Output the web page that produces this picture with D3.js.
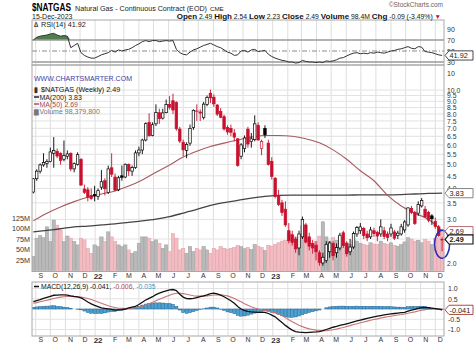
<!DOCTYPE html>
<html><head><meta charset="utf-8">
<script src="https://cdn.jsdelivr.net/npm/d3@7"></script>
<style>body{margin:0;background:#fff}svg{display:block}text{font-family:"Liberation Sans",Arial,sans-serif}</style>
</head><body><svg id="c" width="474" height="348"></svg>
<script>
// ---------- DATA ----------
const startDate = new Date(2021, 7, 27);           // first weekly bar
const weeks = d3.range(121).map(i => d3.timeDay.offset(startDate, 7 * i));
const open = [3.87,4.38,4.70,4.98,5.05,5.14,5.55,5.65,5.55,5.25, 5.40,5.55,4.80,5.00,5.25,3.98,3.95,3.75,3.78,3.72,
  4.05,4.30,3.85,4.85,4.45,3.95,4.50,4.45,5.00,4.70, 4.86,5.57,5.72,6.28,7.40,6.55,7.30,8.10,7.70,8.10,
  8.75,9.05,8.90,6.95,6.15,5.70,6.10,7.05,8.20,8.15, 7.75,8.75,9.70,9.35,8.70,8.20,7.80,7.05,7.00,6.70,
  6.35,5.40,5.80,6.95,6.20,6.30,7.20,5.80,7.00,6.10, 5.15,4.40,3.75,3.50,3.30,2.70,2.60,2.50,2.30,2.55,
  2.85,2.55,2.40,2.36,2.20,2.00,2.05,2.22,2.40,2.20, 2.30,2.65,2.40,2.22,2.32,2.62,2.70,2.76,2.62,2.55,
  2.70,2.66,2.62,2.70,2.62,2.62,2.67,2.58,2.62,2.72, 2.85,3.32,3.20,3.18,3.40,3.30,3.20,3.10,2.94,2.80, 2.49];
const high = [4.40,4.78,5.05,5.55,5.25,5.85,6.45,5.80,5.60,6.25, 5.70,5.60,5.10,5.60,5.30,4.15,4.05,4.00,4.10,4.00,
  4.75,4.40,4.95,5.55,4.60,4.50,4.95,5.05,5.05,4.95, 5.70,5.90,6.35,7.40,8.05,7.40,8.75,8.40,8.40,9.15,
  9.45,9.66,9.00,7.10,6.30,6.15,7.25,8.35,8.75,8.35, 8.95,9.50,10.03,9.60,8.75,8.45,7.95,7.20,7.25,6.95,
  6.40,6.10,6.55,7.10,6.70,7.90,7.40,6.30,7.20,6.30, 5.35,4.45,3.95,3.60,3.55,2.90,2.70,2.55,2.70,3.08,
  2.90,2.65,2.48,2.45,2.25,2.20,2.45,2.45,2.45,2.40, 2.65,2.70,2.45,2.50,2.68,2.82,2.90,2.80,2.70,2.80,
  2.78,2.70,3.00,2.80,2.68,2.88,2.72,2.70,2.88,2.98, 3.35,3.40,3.25,3.55,3.66,3.40,3.25,3.15,3.05,2.85, 2.54];
const low = [3.82,4.30,4.60,4.90,4.85,5.10,4.85,5.30,5.00,5.15, 5.25,4.70,4.65,4.95,4.10,3.80,3.55,3.60,3.55,3.60,
  3.95,3.75,3.80,4.45,3.90,3.90,4.30,4.40,4.50,4.50, 4.80,5.40,5.50,6.20,6.50,6.50,7.15,7.30,7.60,8.05,
  8.35,8.00,6.85,6.10,5.40,5.30,5.95,6.90,7.50,7.50, 7.60,8.60,8.85,8.55,7.85,7.70,6.85,6.60,6.50,6.20,
  4.90,5.25,5.60,5.85,5.85,6.20,6.25,5.45,6.40,4.95, 4.35,3.65,3.40,3.10,2.80,2.40,2.35,2.20,2.15,2.50,
  2.40,2.25,2.18,2.05,1.95,1.95,2.00,2.10,2.05,2.10, 2.25,2.30,2.12,2.15,2.28,2.55,2.62,2.50,2.45,2.50,
  2.55,2.45,2.55,2.50,2.45,2.55,2.48,2.50,2.58,2.65, 2.80,3.15,2.85,3.10,3.35,3.05,2.92,2.85,2.75,2.55, 2.23];
const close = [4.38,4.70,4.98,5.10,5.14,5.62,5.69,5.41,5.19,5.43, 5.52,4.80,5.04,5.48,4.13,3.86,3.69,3.65,3.73,3.92,
  4.26,3.99,4.80,4.57,3.94,4.42,4.44,5.01,4.71,4.86, 5.57,5.72,6.28,7.31,6.53,7.24,8.12,7.66,8.08,8.73,
  8.52,8.30,6.97,6.22,5.73,6.03,7.00,8.28,8.23,8.07, 8.77,9.34,9.30,8.79,7.99,7.76,6.96,6.77,6.75,6.45,
  4.96,6.00,6.40,6.05,6.35,7.30,6.28,6.20,6.60,5.00, 4.48,3.71,3.45,3.20,2.85,2.46,2.42,2.28,2.62,3.00,
  2.43,2.34,2.30,2.22,2.01,2.11,2.38,2.41,2.14,2.31, 2.59,2.35,2.18,2.32,2.63,2.78,2.80,2.58,2.53,2.72,
  2.63,2.57,2.80,2.56,2.54,2.77,2.52,2.64,2.80,2.93, 3.34,3.20,2.89,3.45,3.58,3.07,2.98,3.02,2.81,2.58, 2.49];
const volume = [34,77,83,78,104,69,120,108,96,69, 82,77,69,61,77,73,53,41,61,57,
  80,69,92,80,69,61,57,61,49,41, 45,65,80,80,77,69,73,65,53,61,
  45,88,77,49,53,41,57,45,53,49, 57,49,41,53,49,57,53,51,53,55,
  60,57,52,55,50,62,58,55,48,60, 58,62,66,70,72,88,85,80,75,106,
  78,72,65,70,82,116,80,70,78,72, 80,68,66,62,72,70,65,62,60,66,
  63,62,70,65,62,66,60,58,62,68, 78,75,70,72,66,74,70,62,76,78, 98.4];
// moving averages read every 4th week
const maWeekIdx = d3.range(0, 121, 4);
const ma50 = [2.96,3.18,3.37,3.54,3.69,3.80,3.91,4.09,4.33,4.65,4.98,5.36,5.66,5.91,6.10,6.28,6.45,6.55,6.55,6.50,6.35,6.12,5.73,5.25,4.72,4.30,3.75,3.40,3.18,3.00,2.69];
const ma200 = [2.67,2.71,2.75,2.80,2.82,2.85,2.88,2.92,2.96,3.01,3.08,3.18,3.29,3.42,3.51,3.58,3.66,3.72,3.75,3.76,3.76,3.76,3.76,3.76,3.77,3.77,3.77,3.78,3.80,3.82,3.83];
const rsi = [70,75,77,78,79,81,82,79,77,78, 77,56,60,64,47,42,39,37,37,40,
  43,45,47,51,48,52,50,52,53,56, 60,63,67,69,67,69,69,67,68,69,
  68,69,53,47,44,43,48,52,54,57, 60,62,64,61,58,56,52,48,46,42,
  43,50,51,48,52,53,49,50,51,44, 40,37,35,33,32,30,30,28,29,33,
  31,30,30,29,30,29,32,31,32,34, 37,38,41,44,46,47,45,46,45,47,
  46,48,47,46,48,50,51,53,54,56, 58,55,54,58,57,49,48,47,45,43, 41.92];
const macd = [0.36,0.41,0.46,0.52,0.57,0.62,0.67,0.68,0.69,0.69, 0.68,0.64,0.61,0.59,0.54,0.45,0.34,0.25,0.18,0.12,
  0.06,0.03,0.01,-0.02,-0.05,-0.04,-0.03,0.00,0.05,0.09, 0.13,0.22,0.33,0.44,0.52,0.60,0.70,0.77,0.83,0.88,
  0.93,0.95,0.90,0.72,0.58,0.51,0.50,0.52,0.56,0.60, 0.64,0.69,0.75,0.77,0.74,0.68,0.60,0.50,0.40,0.28,
  0.12,0.00,-0.08,-0.12,-0.14,-0.15,-0.16,-0.16,-0.16,-0.22, -0.30,-0.38,-0.52,-0.66,-0.80,-0.92,-1.03,-1.10,-1.13,-1.14,
  -1.15,-1.14,-1.13,-1.12,-1.10,-1.06,-1.00,-0.94,-0.89,-0.85, -0.80,-0.76,-0.72,-0.68,-0.63,-0.58,-0.54,-0.50,-0.46,-0.42,
  -0.38,-0.35,-0.32,-0.29,-0.26,-0.24,-0.22,-0.20,-0.18,-0.16, -0.10,-0.05,-0.02,0.03,0.07,0.08,0.06,0.04,0.02,-0.01, -0.041];
const signal = [0.28,0.31,0.35,0.39,0.43,0.47,0.51,0.55,0.58,0.60, 0.61,0.62,0.61,0.60,0.58,0.55,0.51,0.46,0.40,0.34,
  0.28,0.22,0.16,0.11,0.07,0.04,0.03,0.02,0.03,0.04, 0.06,0.09,0.14,0.20,0.26,0.33,0.40,0.47,0.54,0.61,
  0.67,0.73,0.77,0.77,0.75,0.72,0.68,0.65,0.63,0.63, 0.63,0.64,0.66,0.68,0.69,0.69,0.67,0.64,0.58,0.51,
  0.43,0.35,0.26,0.18,0.11,0.05,0.00,-0.04,-0.07,-0.10, -0.14,-0.19,-0.25,-0.33,-0.42,-0.52,-0.62,-0.71,-0.79,-0.86,
  -0.92,-0.97,-1.00,-1.03,-1.05,-1.06,-1.06,-1.04,-1.01,-0.98, -0.94,-0.90,-0.85,-0.81,-0.76,-0.72,-0.67,-0.63,-0.59,-0.55,
  -0.51,-0.48,-0.44,-0.41,-0.38,-0.35,-0.32,-0.29,-0.27,-0.24, -0.21,-0.17,-0.14,-0.10,-0.06,-0.03,-0.01,0.00,0.00,0.00, -0.006];
const priceGrid = [10,9.5,9,8.5,8,7.5,7,6.5,6,5.5,5,4.5,4,3.5,3,2.5,2];
const priceLabels = [10,9.5,9,8.5,8,7.5,7,6.5,6,5.5,5,4.5,4,3.5,3,2];
const volTicks = [25,50,75,100,125];
const rsiTicks = [90,70,50,30,10];
const macdTicks = [1,0.5,-0.5,-1];
const monthStarts = d3.timeMonth.range(new Date(2021,8,1), new Date(2024,0,1));
const monthLetters = ["J","F","M","A","M","J","J","A","S","O","N","D"];

// ---------- LAYOUT ----------
const L = 32, R = 444;
const rsiTop = 20, rsiBot = 65, mainTop = 65, mainBot = 271.5, mTop = 282, mBot = 336;
const RED = "#c8102e";
const svg = d3.select("#c");
const x = d3.scaleTime().domain([weeks[0], weeks[120]]).range([33.3, 442.1]);
const yP = d3.scaleLog().domain([2, 10]).range([263, 90]);
const yV = d3.scaleLinear().domain([0, 125]).range([270.5, 218]);
const yR = d3.scaleLinear().domain([10, 90]).range([73, 29]);
const yM = d3.scaleLinear().domain([-1, 1]).range([329.5, 288.5]);
const hy = s => s.replace(/\u2212/g, "-");

function txt(parent, px, py, size, str, o = {}) {
  const g = parent.append("g").attr("transform", `translate(${px},${py})`);
  const t = g.append("text").attr("x", 0).attr("y", 0).attr("font-size", size)
    .attr("fill", o.fill || "#222").attr("font-weight", o.bold ? "bold" : "normal");
  if (o.anchor) t.attr("text-anchor", o.anchor);
  if (o.family) t.attr("font-family", o.family);
  if (o.len) t.attr("textLength", o.len).attr("lengthAdjust", "spacingAndGlyphs");
  if (str !== null) t.text(str);
  return t;
}

const defs = svg.append("defs");
[["cMain", mainTop, mainBot], ["cRsi", rsiTop, rsiBot], ["cMacd", mTop, mBot]].forEach(([id, t, b]) =>
  defs.append("clipPath").attr("id", id).append("rect").attr("x", L).attr("y", t).attr("width", R - L).attr("height", b - t));

// grids
function vgrid(t, b) {
  svg.append("g").selectAll("line").data(monthStarts).join("line")
    .attr("x1", d => x(d)).attr("x2", d => x(d)).attr("y1", t).attr("y2", b)
    .attr("stroke", "#dedede").attr("stroke-width", 1);
}
vgrid(rsiTop, rsiBot); vgrid(mainTop, mainBot); vgrid(mTop, mBot);
svg.append("g").selectAll("line").data(priceGrid).join("line")
  .attr("x1", L).attr("x2", R).attr("y1", d => yP(d)).attr("y2", d => yP(d)).attr("stroke", "#e2e2e2");
svg.append("g").selectAll("line").data([1, 0.5, 0, -0.5, -1]).join("line")
  .attr("x1", L).attr("x2", R).attr("y1", d => yM(d)).attr("y2", d => yM(d)).attr("stroke", "#e2e2e2");

// ---------- RSI ----------
const gR = svg.append("g").attr("clip-path", "url(#cRsi)");
gR.append("path").datum(rsi).attr("fill", "#4f7f4f")
  .attr("d", d3.area().x((d, i) => x(weeks[i])).y0(yR(70)).y1(d => yR(Math.max(d, 70))));
[70, 30].forEach(v => gR.append("line").attr("x1", L).attr("x2", R).attr("y1", yR(v)).attr("y2", yR(v)).attr("stroke", "#9a9a9a").attr("stroke-width", 1.6));
gR.append("line").attr("x1", L).attr("x2", R).attr("y1", yR(50)).attr("y2", yR(50)).attr("stroke", "#8a8a8a").attr("stroke-dasharray", "5,2,1,2");
gR.append("path").datum(rsi).attr("fill", "none").attr("stroke", "#333").attr("stroke-width", 1)
  .attr("d", d3.line().x((d, i) => x(weeks[i])).y(d => yR(d)));

// ---------- MAIN ----------
const gM = svg.append("g").attr("clip-path", "url(#cMain)");
const isDown = i => i > 0 && close[i] < close[i - 1];
gM.append("g").selectAll("rect").data(volume).join("rect")
  .attr("x", (d, i) => x(weeks[i]) - 1.7).attr("width", 3.4)
  .attr("y", d => yV(d)).attr("height", d => yV(0) - yV(d))
  .attr("fill", (d, i) => isDown(i) ? "#f2bcc3" : "#b9b9b9")
  .attr("stroke", (d, i) => isDown(i) ? "#e29fa8" : "#9e9e9e").attr("stroke-width", 0.5);
const maLine = d3.line().x((d, k) => x(weeks[maWeekIdx[k]])).y(d => yP(d)).curve(d3.curveMonotoneX);
gM.append("path").datum(ma200).attr("d", maLine).attr("fill", "none").attr("stroke", "#444").attr("stroke-width", 1.3);
gM.append("path").datum(ma50).attr("d", maLine).attr("fill", "none").attr("stroke", "#a85a5e").attr("stroke-width", 1.1);
const cCol = i => isDown(i) ? RED : "#000";
const candles = gM.append("g").selectAll("g").data(weeks).join("g");
candles.append("line").attr("x1", d => x(d)).attr("x2", d => x(d))
  .attr("y1", (d, i) => yP(high[i])).attr("y2", (d, i) => yP(low[i])).attr("stroke", (d, i) => cCol(i)).attr("stroke-width", 0.9);
candles.append("rect").attr("x", d => x(d) - 1.25).attr("width", 2.5)
  .attr("y", (d, i) => yP(Math.max(open[i], close[i])))
  .attr("height", (d, i) => Math.max(0.6, yP(Math.min(open[i], close[i])) - yP(Math.max(open[i], close[i]))))
  .attr("fill", (d, i) => close[i] < open[i] ? cCol(i) : "#fff")
  .attr("stroke", (d, i) => cCol(i)).attr("stroke-width", 0.7);
svg.append("ellipse").attr("cx", x(weeks[120])).attr("cy", yP(2.38)).attr("rx", 7.5).attr("ry", 14)
  .attr("fill", "none").attr("stroke", "#2a2ab4").attr("stroke-width", 1.5);

// ---------- MACD ----------
const gD = svg.append("g").attr("clip-path", "url(#cMacd)");
gD.append("g").selectAll("rect").data(macd).join("rect")
  .attr("x", (d, i) => x(weeks[i]) - 1.5).attr("width", 3)
  .attr("y", (d, i) => Math.min(yM(0), yM(d - signal[i])))
  .attr("height", (d, i) => Math.abs(yM(d - signal[i]) - yM(0)))
  .attr("fill", "#4aa3d6").attr("stroke", "#22628f").attr("stroke-width", 0.5);
gD.append("path").datum(signal).attr("fill", "none").attr("stroke", "#c77474").attr("stroke-width", 1.1)
  .attr("d", d3.line().x((d, i) => x(weeks[i])).y(d => yM(d)));
gD.append("path").datum(macd).attr("fill", "none").attr("stroke", "#111").attr("stroke-width", 1.3)
  .attr("d", d3.line().x((d, i) => x(weeks[i])).y(d => yM(d)));

// panel frames
[[rsiTop, rsiBot], [mainTop, mainBot], [mTop, mBot]].forEach(([t, b]) =>
  svg.append("rect").attr("x", L).attr("y", t).attr("width", R - L).attr("height", b - t)
    .attr("fill", "none").attr("stroke", "#a8a8a8").attr("stroke-width", 1));

// ---------- AXES ----------
function styleAxis(g, size) {
  g.select(".domain").remove();
  g.selectAll("text").attr("font-size", size).attr("fill", "#333");
}
svg.append("g").attr("transform", `translate(${R},0)`)
  .call(d3.axisRight(yP).tickValues(priceLabels).tickFormat(d3.format(".1f")).tickSize(0).tickPadding(3))
  .call(g => styleAxis(g, 6.8));
svg.append("g").attr("transform", `translate(${R},0)`)
  .call(d3.axisRight(yR).tickValues(rsiTicks).tickSize(0).tickPadding(3))
  .call(g => styleAxis(g, 7));
svg.append("g").attr("transform", `translate(${R},0)`)
  .call(d3.axisRight(yM).tickValues(macdTicks).tickFormat(d => hy(d3.format(".1f")(d))).tickSize(0).tickPadding(4))
  .call(g => styleAxis(g, 7));
svg.append("g").attr("transform", `translate(${L - 1},0)`)
  .call(d3.axisLeft(yV).tickValues(volTicks).tickFormat(d => d + "M").tickSize(0).tickPadding(1))
  .call(g => styleAxis(g, 7.2));
const monthFmt = d => d.getMonth() === 0 ? String(d.getFullYear()).slice(2) : monthLetters[d.getMonth()];
[mainBot + 0.5, mBot + 0.5].forEach(ty => {
  svg.append("g").attr("transform", `translate(0,${ty})`)
    .call(d3.axisBottom(x).tickValues(monthStarts).tickFormat(monthFmt).tickSize(0).tickPadding(1))
    .call(g => {
      styleAxis(g, 7);
      g.selectAll(".tick text").attr("dx", d => d.getMonth() === 0 ? 2.5 : 4.5)
        .attr("font-weight", d => d.getMonth() === 0 ? "bold" : "normal")
        .attr("font-size", d => d.getMonth() === 0 ? 8 : 7);
    });
});

// value boxes
function vbox(y, label, stroke, bold) {
  svg.append("path").attr("d", `M${R + 1},${y} L${R + 5},${y - 4.6} L473,${y - 4.6} L473,${y + 4.6} L${R + 5},${y + 4.6} Z`)
    .attr("fill", "#fff").attr("stroke", stroke).attr("stroke-width", bold ? 1.1 : 0.9);
  txt(svg, R + 5.5, y + 2.7, 7.3, label, { bold: bold, fill: "#222" });
}
vbox(yR(41.92), "41.92", "#333", false);
vbox(yP(3.83), "3.83", "#777", false);
vbox(yP(2.69), "2.69", "#b06064", false);
vbox(yP(2.49), "2.49", "#111", true);
vbox(yM(-0.041), "-0.041", "#a33", false);

// ---------- HEADER & LEGENDS ----------
const head = svg.append("g").attr("class", "header");
txt(head, 32, 10.5, 10.5, "$NATGAS", { bold: true, fill: "#000", len: 39 });
txt(head, 75, 10.5, 7.4, "Natural Gas - Continuous Contract (EOD)", { fill: "#222", len: 132 });
txt(head, 210, 10.5, 6.2, "CME", { fill: "#222" });
txt(head, 32, 18.5, 7, "15-Dec-2023", { fill: "#222" });
txt(head, 443, 6.5, 6.5, "\u00A9StockCharts.com", { fill: "#666", anchor: "end" });
const ohlc = txt(head, 441, 18.5, 8, null, { anchor: "end", fill: "#111" });
[["Open", 1], [" 2.49 ", 0], ["High", 1], [" 2.54 ", 0], ["Low", 1], [" 2.23 ", 0], ["Close", 1], [" 2.49 ", 0],
 ["Volume", 1], [" 98.4M ", 0], ["Chg", 1], [" -0.09 (-3.49%) ", 0]].forEach(([t, b]) =>
  ohlc.append("tspan").attr("font-size", b ? 8 : 6.8).attr("font-weight", b ? "bold" : "normal").text(t));
ohlc.append("tspan").attr("font-size", 6.5).attr("fill", RED).text("\u25BC");

const mono = "DejaVu Sans Mono, monospace";
const leg = svg.append("g").attr("class", "legends");
txt(leg, 34, 27, 7, "\u2206", { bold: true, fill: "#444" });
txt(leg, 41, 27, 7.2, "RSI(14) 41.92", { family: mono, fill: "#222" });
txt(leg, 34, 81, 7.6, "WWW.CHARTSMARTER.COM", { fill: "#3d3da8", len: 98 });
txt(leg, 34, 92, 7, "\u25AE", { bold: true, fill: "#333" });
txt(leg, 41, 92, 7.2, "$NATGAS (Weekly) 2.49", { family: mono, fill: "#111" });
leg.append("line").attr("x1", 34).attr("x2", 39).attr("y1", 97).attr("y2", 97).attr("stroke", "#222").attr("stroke-width", 1.5);
txt(leg, 39.5, 99.5, 7, "MA(200) 3.83", { fill: "#222" });
leg.append("line").attr("x1", 34).attr("x2", 39).attr("y1", 104).attr("y2", 104).attr("stroke", "#a85a5e").attr("stroke-width", 1.5);
txt(leg, 39.5, 106.5, 7, "MA(50) 2.69", { fill: "#a04a50" });
txt(leg, 34, 113.5, 6, "\u2587", { fill: "#777" });
txt(leg, 39.5, 113.5, 7, "Volume 98,379,800", { fill: "#777" });
leg.append("line").attr("x1", 34).attr("x2", 39).attr("y1", 286.5).attr("y2", 286.5).attr("stroke", "#111").attr("stroke-width", 1.5);
const mt = txt(leg, 41, 289, 6.8, null, { family: mono });
mt.append("tspan").attr("fill", "#111").text("MACD(12,26,9) -0.041, ");
mt.append("tspan").attr("fill", "#b34a4a").text("-0.006, ");
mt.append("tspan").attr("fill", "#3a9ac9").text("-0.035");
</script></body></html>
